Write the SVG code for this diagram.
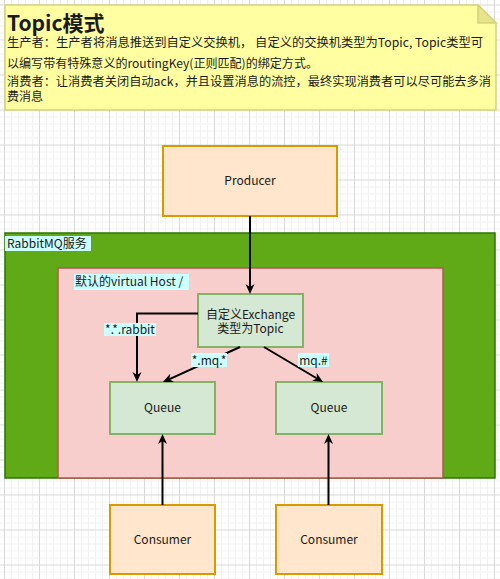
<svg xmlns="http://www.w3.org/2000/svg" width="500" height="579" viewBox="0 0 500 579">
<style>
text{font-family:"Noto Sans CJK SC","Microsoft YaHei",sans-serif;fill:#1a1a1a}
.node text{font-size:12px;text-anchor:middle}
.orange{fill:#ffe6cc;stroke:#d79b00;stroke-width:2}
.green{fill:#d5e8d4;stroke:#82b366;stroke-width:2}
.edge{fill:none;stroke:#000;stroke-width:2;marker-end:url(#arr)}
.lblbg{fill:#ccffff}
.lbl{font-size:12px}
</style>
<defs>
<pattern id="grid" patternUnits="userSpaceOnUse" x="4" y="4.5" width="35" height="35">
<path d="M7.5,0V35M14.5,0V35M21.5,0V35M28.5,0V35M0,7.5H35M0,14.5H35M0,21.5H35M0,28.5H35" stroke="#f1f1f1" stroke-width="1" fill="none"/>
<path d="M0.5,0V35M0,0.5H35" stroke="#d8d8d8" stroke-width="1" fill="none"/>
</pattern>
<marker id="arr" markerUnits="userSpaceOnUse" markerWidth="12" markerHeight="12" viewBox="0 -6 12 12" refX="7" refY="0" orient="auto">
<path d="M0,-4.5L10,0L0,4.5L3,0Z" fill="#000"/>
</marker>
</defs>
<rect width="500" height="579" fill="#fff"/>
<rect width="500" height="579" fill="url(#grid)"/>

<g id="note">
<path d="M5,5H478L496,23V110H5Z" fill="#ffffa2" stroke="#d6d27c" stroke-width="1.5"/>
<path d="M478,5V23H496Z" fill="#e6e48c" stroke="#d6d27c" stroke-width="1.5"/>
<text x="7" y="31" style="font-size:21px;font-weight:bold">Topic模式</text>
<text x="7" y="47" style="font-size:12px" textLength="476" lengthAdjust="spacingAndGlyphs">生产者：生产者将消息推送到自定义交换机， 自定义的交换机类型为Topic, Topic类型可</text>
<text x="7" y="68" style="font-size:12px" textLength="311" lengthAdjust="spacingAndGlyphs">以编写带有特殊意义的routingKey(正则匹配)的绑定方式。</text>
<text x="7" y="85.5" style="font-size:12px" textLength="484" lengthAdjust="spacingAndGlyphs">消费者：让消费者关闭自动ack，并且设置消息的流控，最终实现消费者可以尽可能去多消</text>
<text x="7" y="100.5" style="font-size:12px">费消息</text>
</g>

<g id="rabbitmq">
<rect x="5" y="233" width="490" height="245" fill="#60a917" stroke="#2d7600" stroke-width="1.5"/>
<rect class="lblbg" x="5" y="236" width="86" height="15"/>
<text x="7" y="248" class="lbl">RabbitMQ服务</text>
</g>

<g id="vhost">
<rect x="58" y="268" width="385" height="210" fill="#f8cecc" stroke="#b85450" stroke-width="1.5"/>
<rect class="lblbg" x="74" y="274" width="115" height="16"/>
<text x="75" y="286" class="lbl">默认的virtual Host /</text>
</g>

<g id="producer" class="node">
<rect class="orange" x="163" y="146" width="174" height="70"/>
<text x="250" y="185">Producer</text>
</g>

<g id="exchange" class="node">
<rect class="green" x="198" y="294" width="105" height="53"/>
<text x="250.5" y="318.5">自定义Exchange</text>
<text x="250.5" y="333">类型为Topic</text>
</g>

<g id="queue1" class="node">
<rect class="green" x="110" y="382" width="105" height="52"/>
<text x="162.5" y="412">Queue</text>
</g>

<g id="queue2" class="node">
<rect class="green" x="276" y="382" width="106" height="52"/>
<text x="329" y="412">Queue</text>
</g>

<g id="consumer1" class="node">
<rect class="orange" x="110" y="505" width="105" height="69"/>
<text x="162.5" y="544">Consumer</text>
</g>

<g id="consumer2" class="node">
<rect class="orange" x="276" y="505" width="106" height="69"/>
<text x="329" y="544">Consumer</text>
</g>

<g id="connectors">
<path class="edge" d="M250,216L250,291"/>
<path class="edge" d="M198,313.5H137V379"/>
<path class="edge" d="M240,347L165.7,380.8"/>
<path class="edge" d="M264,347L320.4,380.5"/>
<path class="edge" d="M162.5,505V437"/>
<path class="edge" d="M328.5,505V437"/>
<rect class="lblbg" x="104" y="323" width="52" height="13"/>
<text x="130" y="334" class="lbl" text-anchor="middle">*.*.rabbit</text>
<rect class="lblbg" x="191" y="353" width="36" height="14"/>
<text x="209" y="365" class="lbl" text-anchor="middle">*.mq.*</text>
<rect class="lblbg" x="298" y="353" width="31" height="14"/>
<text x="313.5" y="365" class="lbl" text-anchor="middle">mq.#</text>
</g>
</svg>
